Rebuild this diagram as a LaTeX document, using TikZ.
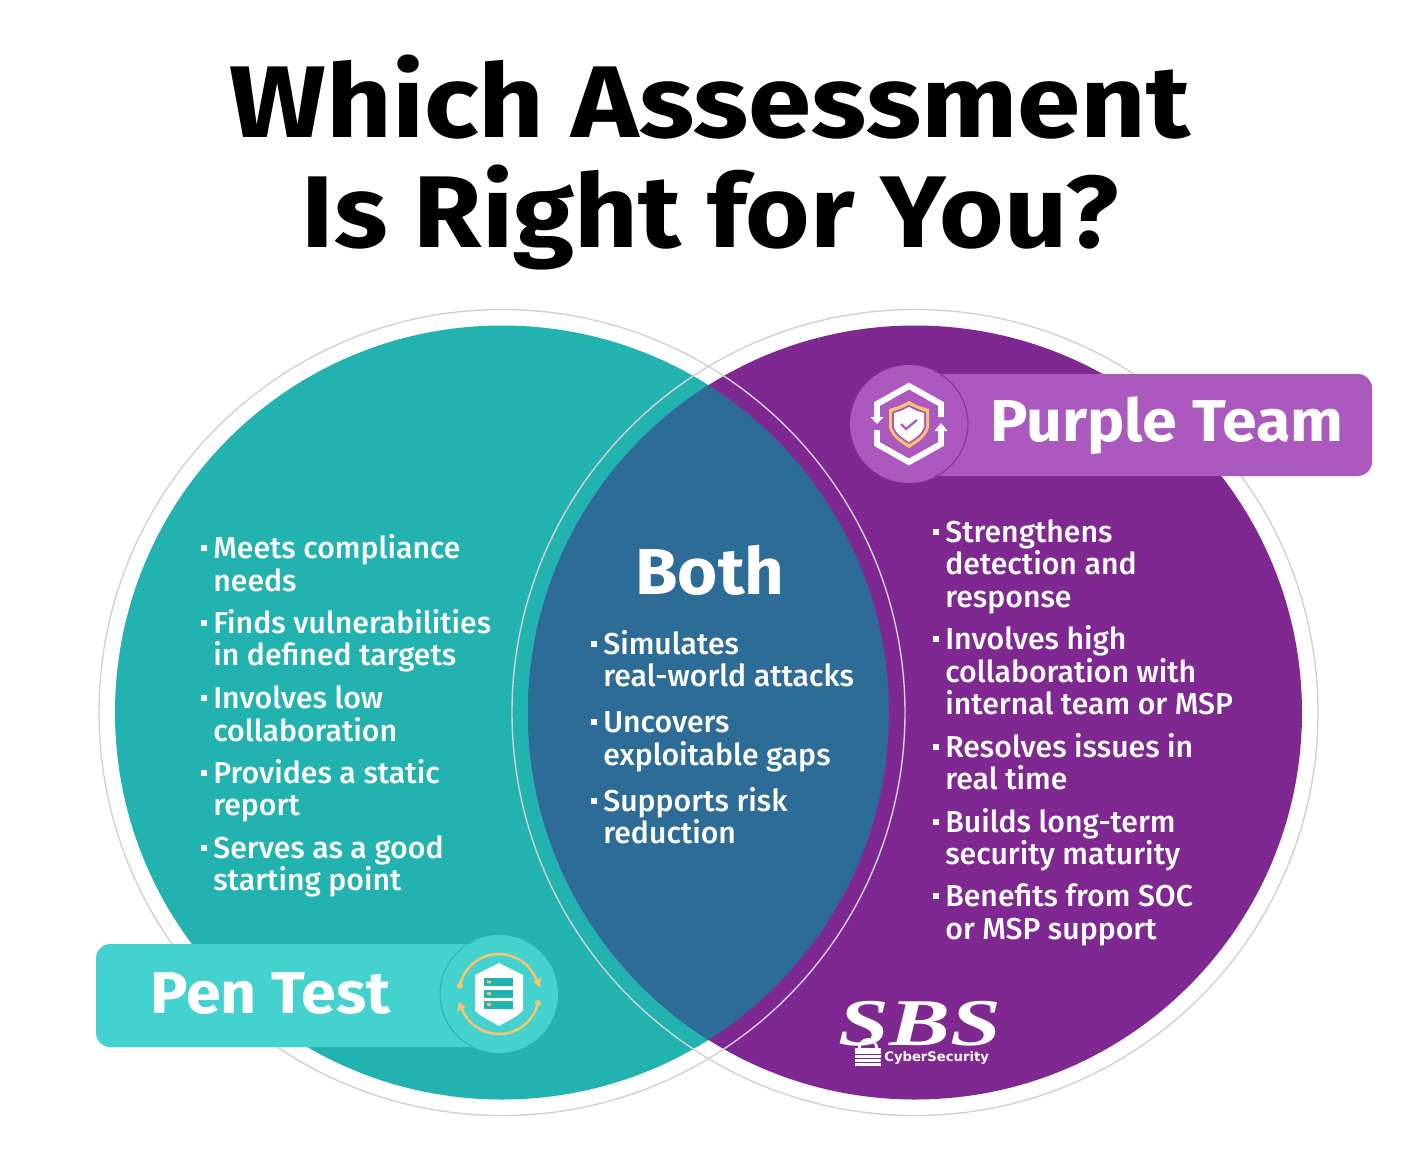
\documentclass[tikz,border=0pt]{standalone}
\usepackage{fontspec}
\setmainfont{Fira Sans}
\newfontfamily\titlefont{Fira Sans Bold}[FakeStretch=1.12]
\newfontfamily\etiqfont{Fira Sans Bold}[FakeStretch=1.06]
\newfontfamily\bodyfont{Fira Sans Medium}
\newfontfamily\logofont{Liberation Serif Bold Italic}
\newfontfamily\logosans{DejaVu Sans Bold}
\usepackage{tikz}
\newcommand{\ra}{403}
\newcommand{\rf}{387}
\definecolor{tealsbs}{HTML}{22B2B0}
\definecolor{tealclair}{HTML}{44D2CF}
\definecolor{violetsbs}{HTML}{7F2891}
\definecolor{violetclair}{HTML}{AB59BE}
\definecolor{bothbleu}{HTML}{2E6C98}
\definecolor{orsbs}{HTML}{FAC46C}
\tikzstyle{ring}=[draw=black!18,line width=0.8pt]
\tikzstyle{txt}=[anchor=base west,inner sep=0pt,text=white,font=\bodyfont\fontsize{17.2}{18}\selectfont]
\tikzstyle{titre}=[anchor=base,inner sep=0pt,text=black,font=\titlefont\fontsize{58}{58}\selectfont]
\tikzstyle{etiq}=[anchor=base west,inner sep=0pt,text=white,font=\etiqfont\fontsize{33.6}{34}\selectfont]
\tikzstyle{puce}=[fill=white]
\tikzstyle{icone}=[draw=white,line width=3.4pt,line join=miter]
\begin{document}
\begin{tikzpicture}[x=0.02cm,y=0.02cm]
\useasboundingbox (0,0) rectangle (1420,-1154);

\node[titre] (titre1) at (710,-137) {Which Assessment};
\node[titre] (titre2) at (710,-247) {\scalebox{0.97}[1]{Is Right for You?}};

% circles
\fill[tealsbs] (502,-712.5) circle (\rf);
\fill[violetsbs] (915,-712.5) circle (\rf);
\begin{scope}
\clip (502,-712.5) circle (\rf);
\fill[bothbleu] (915,-712.5) circle (\rf);
\end{scope}
\draw[ring] (502,-712.5) circle (\ra);
\draw[ring] (915,-712.5) circle (\ra);

% purple label
\fill[violetclair,rounded corners=8pt] (900,-374) rectangle (1372,-476);
\fill[violetclair] (909,-424) circle (59);
\draw[violetsbs!80!violetclair,line width=0.6pt] (909,-424) ++(-65:59) arc (-65:65:59);
\node[etiq] (purple) at (990,-441) {Purple Team};

\begin{scope}[shift={(909,-424)}]
\draw[icone] (-32,7) -- (-32,20) -- (0,38) -- (32,20) -- (32,7);
\draw[icone] (32,-7) -- (32,-20) -- (0,-38) -- (-32,-20) -- (-32,-6);
\fill[white] (-38.5,7) -- (-25.5,7) -- (-32,0) -- cycle;
\fill[white] (38.5,-7) -- (25.5,-7) -- (32,1) -- cycle;
\fill[orsbs] (0,23) -- (10,18) -- (20,15) -- (20,-3) .. controls (18,-13) and (8,-19) .. (0,-24) .. controls (-8,-19) and (-18,-13) .. (-20,-3) -- (-20,15) -- (-10,18) -- cycle;
\fill[violetclair] (0,19) -- (9,15) -- (17,12) -- (17,-3) .. controls (15,-11) and (7,-16) .. (0,-20) .. controls (-7,-16) and (-15,-11) .. (-17,-3) -- (-17,12) -- (-9,15) -- cycle;
\fill[white] (0,17) -- (8,13) -- (15,11) -- (15,-3) .. controls (13,-10) and (6,-14) .. (0,-18) .. controls (-6,-14) and (-13,-10) .. (-15,-3) -- (-15,11) -- (-8,13) -- cycle;
\draw[violetclair,line width=1.3pt] (-8,0) -- (-3,-5) -- (8,4);
\end{scope}

% pen test label
\fill[tealclair,rounded corners=8pt] (96,-944) rectangle (510,-1047);
\fill[tealclair] (499,-994) circle (59);
\draw[tealsbs!85!tealclair,line width=0.6pt] (499,-994) ++(115:59) arc (115:245:59);
\node[etiq] (pen) at (150,-1013) {Pen Test};

\begin{scope}[shift={(499,-994)}]
\draw[orsbs,line width=1.4pt] (168:40) arc (168:15:40);
\draw[orsbs,line width=1.4pt] (-13:40) arc (-13:-165:40);
\fill[orsbs] (168:40) circle (3);
\fill[orsbs] (-13:40) circle (3);
\fill[orsbs] (41,7) -- (34,12) -- (42,16) -- cycle;
\fill[orsbs] (-40,-8) -- (-42,-17) -- (-33,-13) -- cycle;
\fill[white] (0,31) -- (24,19) -- (24,-16) .. controls (20,-22) and (10,-26) .. (0,-32) .. controls (-10,-26) and (-20,-22) .. (-24,-16) -- (-24,19) -- cycle;
\foreach \y in {12,0.5,-10.5}
  {\fill[tealsbs] (-15,\y-4) rectangle (14,\y+4);
  \fill[orsbs] (-10,\y) ellipse (2.5 and 1.5);
  }
\end{scope}

% texts
\node[txt,font=\etiqfont\fontsize{37}{37}\selectfont] (both) at (635,-594) {Both};

\foreach \y/\t [count=\n] in {558/Meets compliance,591/needs,633/Finds vulnerabilities,665/in defined targets,708/Involves low,741/collaboration,783/Provides a static,815/report,858/Serves as a good,890/starting point}
  \node[txt] (gauche\n) at (213,-\y) {\t};
\foreach \y in {558,633,708,783,858}
  \fill[puce] (201,-\y+13) rectangle (207,-\y+7);

\foreach \y/\t [count=\n] in {654/Simulates,686/real-world attacks,732/Uncovers,765/exploitable gaps,811/Supports risk,843/reduction}
  \node[txt] (milieu\n) at (603,-\y) {\t};
\foreach \y in {654,732,811}
  \fill[puce] (591,-\y+13) rectangle (597,-\y+7);

\foreach \y/\t [count=\n] in {542/Strengthens,574/detection and,607/response,649/Involves high,682/collaboration with,714/internal team or MSP,757/Resolves issues in,789/real time,832/Builds long-term,864/security maturity,906/Benefits from SOC,939/or MSP support}
  \node[txt] (droite\n) at (945,-\y) {\t};
\foreach \y in {542,649,757,832,906}
  \fill[puce] (933,-\y+13) rectangle (939,-\y+7);

% logo
\node[anchor=base west,inner sep=0pt,text=white] (sbs) at (838,-1045) {\logofont\fontsize{38}{38}\selectfont\scalebox{1.37}[1]{SBS}};
\node[anchor=base west,inner sep=0pt,text=white] (cyber) at (884,-1061) {\logosans\fontsize{7.5}{7.5}\selectfont CyberSecurity};
\draw[white,line width=1.6pt] (859,-1050) .. controls (859,-1036) and (877,-1036) .. (877,-1050);
\fill[white] (855,-1048) rectangle (881,-1066);
\foreach \y in {1054,1058,1062}
  \draw[violetsbs,line width=0.3pt] (855,-\y) -- (881,-\y);

\end{tikzpicture}
\end{document}
